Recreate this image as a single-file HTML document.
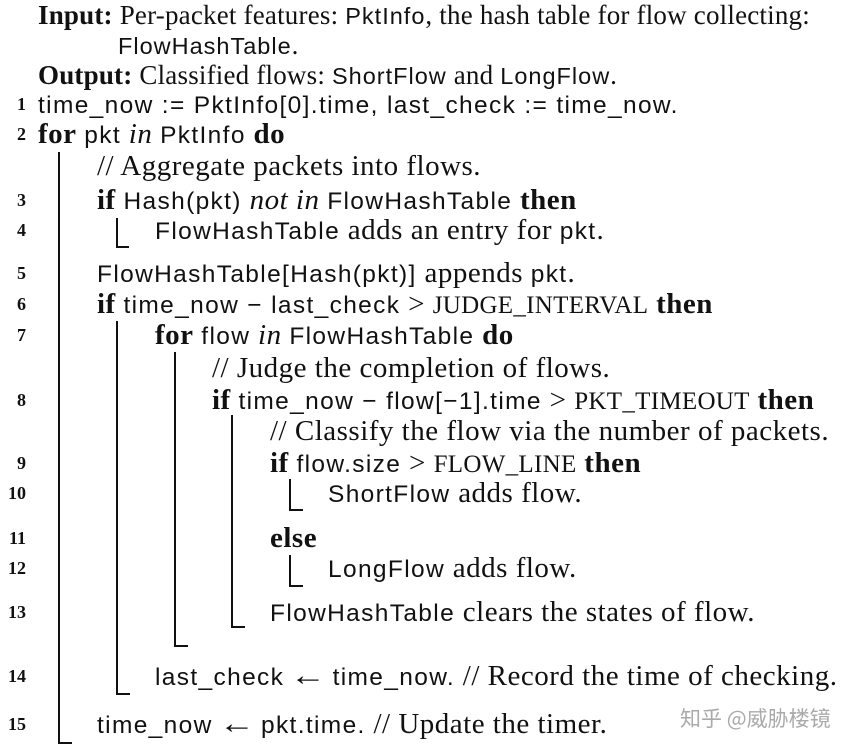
<!DOCTYPE html>
<html><head><meta charset="utf-8"><style>
html,body{margin:0;padding:0;background:#fff;}
body{width:865px;height:752px;position:relative;overflow:hidden;font-family:"Liberation Serif",serif;color:#111;}
.l{position:absolute;height:30px;line-height:30px;white-space:nowrap;font-size:29px;letter-spacing:0.5px;}
.hd{font-size:27px;letter-spacing:0.2px;}
.s{font-family:"Liberation Sans",sans-serif;font-size:24.5px;letter-spacing:1.35px;}
.hd .s{font-size:23.5px;letter-spacing:1px;}
.a{font-family:"Liberation Serif",serif;font-size:30px;letter-spacing:0;display:inline-block;transform:scaleX(1.2);margin:0 1px;}
.n{position:absolute;width:26px;text-align:right;left:0;height:30px;line-height:30px;font-weight:bold;font-size:18px;}
.sc{font-variant:small-caps;font-size:25px;letter-spacing:0.3px;}
.v{position:absolute;width:1.6px;background:#111;}
.h{position:absolute;height:1.6px;background:#111;}
b{font-weight:bold;}
</style></head><body>
<div class="l hd" style="left:38px;top:0px"><b>Input:</b> Per-packet features: <span class="s">PktInfo</span>, the hash table for flow collecting:</div>
<div class="l hd" style="left:118px;top:30px"><span class="s">FlowHashTable</span>.</div>
<div class="l hd" style="left:38px;top:60px"><b>Output:</b> Classified flows: <span class="s">ShortFlow</span> and <span class="s">LongFlow</span>.</div>

<div class="n" style="top:89px">1</div>
<div class="l" style="left:38px;top:89px"><span class="s">time_now := PktInfo[0].time, last_check := time_now.</span></div>
<div class="n" style="top:119px">2</div>
<div class="l" style="left:38px;top:119px"><b>for</b> <span class="s">pkt</span> <i>in</i> <span class="s">PktInfo</span> <b>do</b></div>
<div class="l" style="left:97px;top:151px">// Aggregate packets into flows.</div>
<div class="n" style="top:185px">3</div>
<div class="l" style="left:97px;top:185px"><b>if</b> <span class="s">Hash(pkt)</span> <i>not in</i> <span class="s">FlowHashTable</span> <b>then</b></div>
<div class="n" style="top:215px">4</div>
<div class="l" style="left:155px;top:215px"><span class="s">FlowHashTable</span> adds an entry for <span class="s">pkt</span>.</div>
<div class="n" style="top:258px">5</div>
<div class="l" style="left:97px;top:258px"><span class="s">FlowHashTable[Hash(pkt)]</span> appends <span class="s">pkt</span>.</div>
<div class="n" style="top:289px">6</div>
<div class="l" style="left:97px;top:289px"><b>if</b> <span class="s">time_now − last_check</span> &gt; <span class="sc">JUDGE_INTERVAL</span> <b>then</b></div>
<div class="n" style="top:320px">7</div>
<div class="l" style="left:155px;top:320px"><b>for</b> <span class="s">flow</span> <i>in</i> <span class="s">FlowHashTable</span> <b>do</b></div>
<div class="l" style="left:212px;top:353px">// Judge the completion of flows.</div>
<div class="n" style="top:385px">8</div>
<div class="l" style="left:212px;top:385px"><b>if</b> <span class="s">time_now − flow[−1].time</span> &gt; <span class="sc">PKT_TIMEOUT</span> <b>then</b></div>
<div class="l" style="left:270px;top:416px">// Classify the flow via the number of packets.</div>
<div class="n" style="top:448px">9</div>
<div class="l" style="left:270px;top:448px"><b>if</b> <span class="s">flow.size</span> &gt; <span class="sc">FLOW_LINE</span> <b>then</b></div>
<div class="n" style="top:478px">10</div>
<div class="l" style="left:328px;top:478px"><span class="s">ShortFlow</span> adds flow.</div>
<div class="n" style="top:523px">11</div>
<div class="l" style="left:270px;top:523px"><b>else</b></div>
<div class="n" style="top:553px">12</div>
<div class="l" style="left:328px;top:553px"><span class="s">LongFlow</span> adds flow.</div>
<div class="n" style="top:597px">13</div>
<div class="l" style="left:270px;top:597px"><span class="s">FlowHashTable</span> clears the states of flow.</div>
<div class="n" style="top:661px">14</div>
<div class="l" style="left:155px;top:661px"><span class="s">last_check <span class="a">←</span> time_now.</span> // Record the time of checking.</div>
<div class="n" style="top:709px">15</div>
<div class="l" style="left:97px;top:709px"><span class="s">time_now <span class="a">←</span> pkt.time.</span> // Update the timer.</div>

<div class="v" style="left:58px;top:152px;height:592px"></div><div class="h" style="left:58px;top:742px;width:14px"></div>
<div class="v" style="left:116px;top:218px;height:30px"></div><div class="h" style="left:116px;top:246px;width:13px"></div>
<div class="v" style="left:116px;top:321px;height:374px"></div><div class="h" style="left:116px;top:693px;width:14px"></div>
<div class="v" style="left:174px;top:352px;height:295px"></div><div class="h" style="left:174px;top:645px;width:14px"></div>
<div class="v" style="left:231px;top:415px;height:213px"></div><div class="h" style="left:231px;top:626px;width:14px"></div>
<div class="v" style="left:289px;top:479px;height:32px"></div><div class="h" style="left:289px;top:509px;width:14px"></div>
<div class="v" style="left:289px;top:555px;height:32px"></div><div class="h" style="left:289px;top:585px;width:14px"></div>

<div style="position:absolute;left:680px;top:703px;font-family:'Noto Sans CJK SC',sans-serif;font-size:21px;color:#aaa;white-space:nowrap">知乎 @威胁楼镜</div>
</body></html>
